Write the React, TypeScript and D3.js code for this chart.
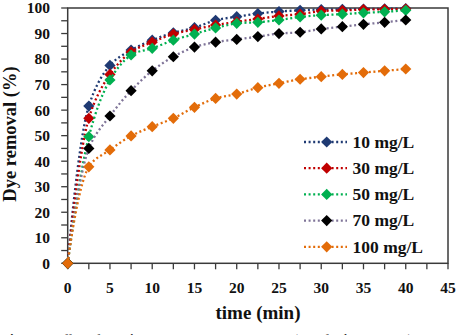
import React, { useEffect } from "react";
import * as d3 from "d3";

const times = [0, 2.5, 5, 7.5, 10, 12.5, 15, 17.5, 20, 22.5, 25, 27.5, 30, 32.5, 35, 37.5, 40];
const s10 = [0, 61.6, 77.5, 83.5, 87.4, 90.3, 92.3, 95.2, 96.6, 97.8, 98.6, 99.1, 99.4, 99.5, 99.6, 99.7, 99.8];
const s30 = [0, 56.8, 74.0, 82.8, 86.6, 89.8, 91.6, 93.3, 94.6, 95.7, 96.9, 97.6, 98.8, 99.0, 99.4, 99.5, 99.6];
const s50 = [0, 49.6, 71.8, 81.6, 84.2, 87.4, 89.8, 92.2, 94.0, 94.4, 95.3, 96.5, 97.2, 97.6, 98.1, 98.5, 99.1];
const s70 = [0, 45.0, 57.7, 67.6, 75.4, 80.9, 84.7, 86.6, 87.7, 88.8, 90.0, 90.5, 91.8, 92.7, 93.6, 94.4, 95.3];
const s100 = [0, 37.8, 44.4, 49.9, 53.5, 56.8, 61.1, 64.6, 66.3, 68.8, 70.5, 72.1, 73.1, 74.0, 74.7, 75.4, 76.1];

const seriesNames = ["10 mg/L", "30 mg/L", "50 mg/L", "70 mg/L", "100 mg/L"];
const seriesValues = [s10, s30, s50, s70, s100];
const markerColors = ["#1F3A73", "#C00000", "#00B050", "#000000", "#E36C09"];
const lineColors = ["#1F3A73", "#C00000", "#00B050", "#7F7498", "#E36C09"];

const xTicks = d3.range(0, 45.01, 2.5);
const xLabels = [0, 5, 10, 15, 20, 25, 30, 35, 40, 45];
const yTicks = d3.range(0, 100.01, 5);
const yLabels = [0, 10, 20, 30, 40, 50, 60, 70, 80, 90, 100];

const W = 474;
const H = 335;
const FONT = "'Liberation Serif', 'Times New Roman', serif";

function diamond(cx: number, cy: number, r: number) {
  return `M${cx},${cy - r}L${cx + r},${cy}L${cx},${cy + r}L${cx - r},${cy}Z`;
}

export default function App() {
  useEffect(() => {
    document.body.style.margin = "0";
  }, []);
  const x = d3.scaleLinear().domain([0, 45]).range([67.7, 448]);
  const y = d3.scaleLinear().domain([0, 100]).range([263.3, 8]);
  const line = d3
    .line<[number, number]>()
    .x((d) => x(d[0]))
    .y((d) => y(d[1]))
    .curve(d3.curveCatmullRom.alpha(0.5));

  const axisColor = "#3a3a3a";
  const legendY0 = 142;
  const legendStep = 26.2;

  return (
    <svg width={W} height={H} style={{ display: "block", position: "absolute", left: 0, top: 0 }} fontFamily={FONT}>
      <rect x={0} y={0} width={W} height={H} fill="#fff" />
      {/* frame */}
      <rect x={x(0)} y={y(100)} width={x(45) - x(0)} height={y(0) - y(100)} fill="none" stroke={axisColor} strokeWidth={1.5} />
      {/* x ticks */}
      {xTicks.map((t) => (
        <line key={"xt" + t} x1={x(t)} x2={x(t)} y1={y(0)} y2={y(0) + 6} stroke={axisColor} strokeWidth={1.3} />
      ))}
      {xLabels.map((t) => (
        <text key={"xl" + t} x={x(t)} y={293} textAnchor="middle" fontSize={15.5} fontWeight="bold" fill="#111">
          {t}
        </text>
      ))}
      {yTicks.map((t) => (
        <line key={"yt" + t} x1={x(0) - 6.5} x2={x(0)} y1={y(t)} y2={y(t)} stroke={axisColor} strokeWidth={1.3} />
      ))}
      {yLabels.map((t) => (
        <text key={"yl" + t} x={50} y={y(t)} dy="0.35em" textAnchor="end" fontSize={15.5} fontWeight="bold" fill="#111">
          {t}
        </text>
      ))}
      <text x={258} y={319} textAnchor="middle" fontSize={19} fontWeight="bold" fill="#111">
        time (min)
      </text>
      <text
        transform={`translate(16,134) rotate(-90)`}
        textAnchor="middle"
        fontSize={18.5}
        fontWeight="bold"
        fill="#111"
      >
        Dye removal (%)
      </text>
      {/* series */}
      {seriesValues.map((vals, i) => {
        const pts = times.map((t, j) => [t, vals[j]] as [number, number]);
        return (
          <g key={"s" + i}>
            <path d={line(pts) || ""} fill="none" stroke={lineColors[i]} strokeWidth={2.3} strokeDasharray="2 2.6" />
            {pts.map((p, j) => (
              <path key={j} d={diamond(x(p[0]), y(p[1]), 5.6)} fill={markerColors[i]} />
            ))}
          </g>
        );
      })}
      {/* legend */}
      {seriesNames.map((name, i) => {
        const cy = legendY0 + i * legendStep;
        return (
          <g key={"lg" + i}>
            <line x1={304} x2={347} y1={cy} y2={cy} stroke={lineColors[i]} strokeWidth={2.3} strokeDasharray="2 2.6" />
            <path d={diamond(326.7, cy, 5.6)} fill={markerColors[i]} />
            <text x={352.5} y={cy} dy="0.33em" fontSize={17.5} fontWeight="bold" fill="#111">
              {name}
            </text>
          </g>
        );
      })}
      {/* caption (cut off at the bottom edge, as in the source figure) */}
      <text x={2} y={343} fontSize={13} fill="#111">
        <tspan fontWeight="bold">Figure 5.</tspan>
        <tspan fontStyle="italic"> Effect of initial RB 5 concentration on HCSB (specific dosage 1 g/L)</tspan>
      </text>
    </svg>
  );
}
